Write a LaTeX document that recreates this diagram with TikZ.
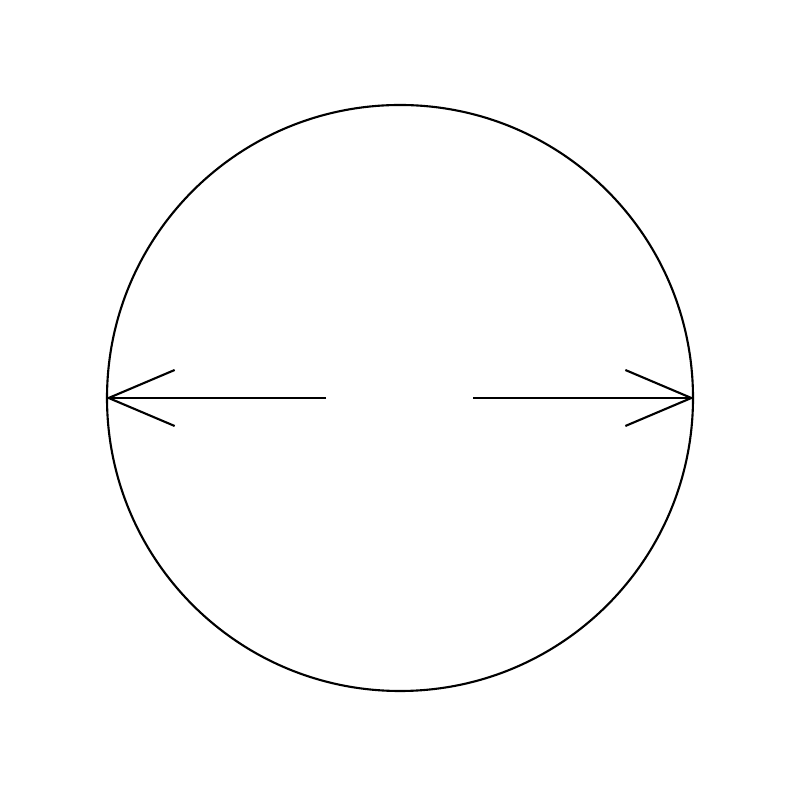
\documentclass[tikz,border=0pt]{standalone}
\usetikzlibrary{arrows, arrows.meta}
\usetikzlibrary{calc}

\begin{document}
\begin{tikzpicture}[line width=0.6pt,
    barb/.style={-{Straight Barb[length=6.6mm, width=5.6mm, line width=0.6pt]}}]
      \useasboundingbox (0,0) rectangle (8,8);

      \node[circle, draw, inner sep=0pt, minimum size=58.6mm, line width=0.6pt] (c) at (4,4.02) {};

      \coordinate (l) at (3.26,4.02);
      \coordinate (r) at (4.73,4.02);

      \draw[barb] (l) -- (c.west);
      \draw[barb] (r) -- (c.east);
    \end{tikzpicture}
\end{document}
